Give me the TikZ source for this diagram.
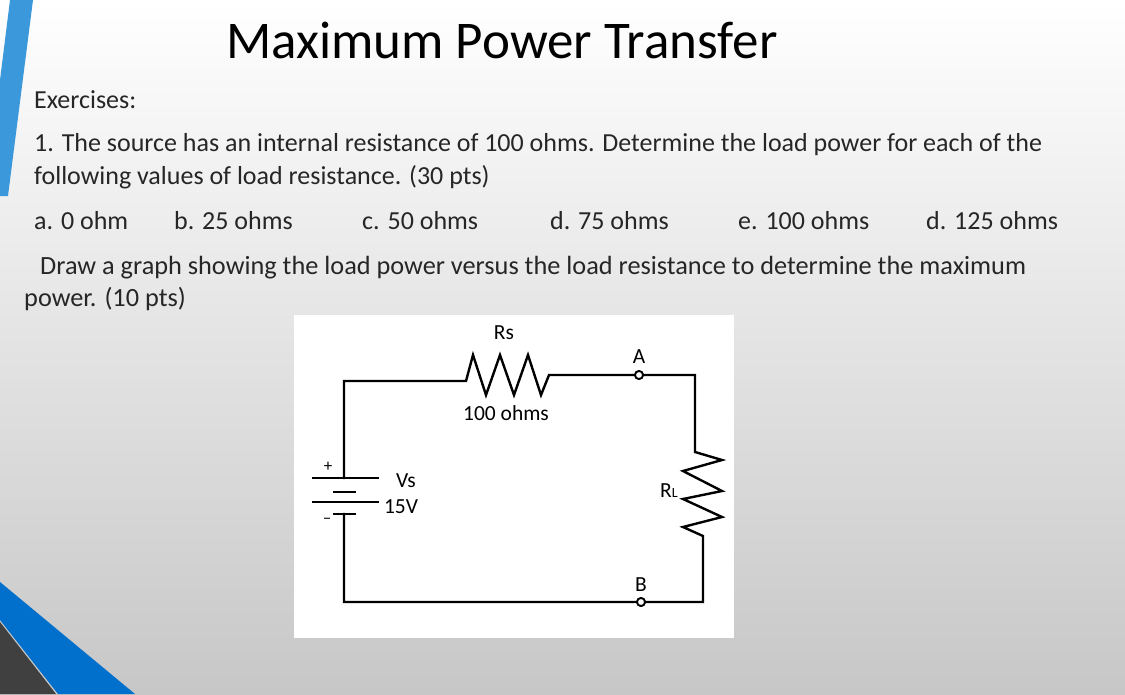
\documentclass[tikz,border=0pt]{standalone}
\usepackage{fontspec}
\setmainfont{Carlito}
\begin{document}
\begin{tikzpicture}[x=1pt,y=-1pt,
  wire/.style={line width=2.4pt,line cap=rect},
  term/.style={circle,draw,line width=1.8pt,fill=white,inner sep=0pt,minimum size=8pt},
  lbl/.style={font=\fontsize{21.5}{24}\selectfont,inner sep=0pt},
  body/.style={font=\fontsize{26}{30}\selectfont,anchor=base west,inner sep=0pt,text=black!85}]
\useasboundingbox (0,0) rectangle (1125,694);
\shade[shading angle=-60,top color=white,bottom color=black!22] (0,0) rectangle (1125,694);
\fill[cyan!70!blue!80] (10,0) -- (33,0) -- (8,196) -- (0,196) -- (0,80) -- cycle;
\fill[black!75] (0,622) -- (0,694) -- (56,694) -- cycle;
\fill[blue!45!cyan!80!black] (0,582) -- (135,694) -- (58,694) -- (0,620) -- cycle;
\node[font=\fontsize{53}{56}\selectfont,anchor=base west,inner sep=0pt] (title) at (226,58) {Maximum Power Transfer};
\node[body] (ex) at (34,108) {Exercises:};
\node[body] (q1) at (34,151) {1. The source has an internal resistance of 100 ohms. Determine the load power for each of the};
\node[body] (q1b) at (34,184) {following values of load resistance. (30 pts)};
\node[body] (a) at (34,229) {a. 0 ohm};
\node[body] (b) at (174,229) {b. 25 ohms};
\node[body] (c) at (362,229) {c. 50 ohms};
\node[body] (d) at (550,229) {d. 75 ohms};
\node[body] (e) at (738,229) {e. 100 ohms};
\node[body] (f) at (926,229) {d. 125 ohms};
\node[body,font=\fontsize{26.3}{30}\selectfont] (g1) at (40,274) {Draw a graph showing the load power versus the load resistance to determine the maximum};
\node[body,font=\fontsize{26.3}{30}\selectfont] (g2) at (24,306) {power. (10 pts)};
% circuit
\fill[white] (294,315) rectangle (734,638);
\coordinate (tl) at (344,381);
\coordinate (r1) at (466,381);
\coordinate (r2) at (549,375);
\node[term] (A) at (639,375) {};
\coordinate (tr) at (695,375);
\coordinate (l1) at (695,452);
\coordinate (l2) at (703,536);
\coordinate (br) at (703,602);
\node[term] (B) at (641,602) {};
\coordinate (bl) at (344,602);
\coordinate (p1) at (344,478);
\coordinate (p2) at (344,514);
\draw[wire,line join=miter] (p1) -- (tl) -- (r1) -- (473,355) -- (486,395) -- (500,355) -- (514,395) -- (528,355) -- (541,395) -- (r2) -- (A) -- (tr) -- (l1) -- (722,460) -- (683,471) -- (722,491) -- (683,499) -- (722,517) -- (683,527) -- (l2) -- (br) -- (B) -- (bl) -- (p2);
\draw[wire] (313,478) -- (378,478) (313,502) -- (378,502);
\draw[wire] (334,492) -- (355,492) (334,514) -- (355,514);
\node[term] at (A) {};
\node[term] at (B) {};
\node[lbl,font=\fontsize{17}{18}\selectfont] (plus) at (328,467) {+};
\node[lbl,font=\fontsize{17}{18}\selectfont] (minus) at (327,521) {--};
\node[lbl] (vs) at (406,481) {Vs};
\node[lbl] (v15) at (401,507) {15V};
\node[lbl] (rs) at (504,333) {Rs};
\node[lbl] (ohm) at (506,413) {100 ohms};
\node[lbl] (la) at (639,357) {A};
\node[lbl] (lb) at (641,585) {B};
\node[lbl] (rl) at (669,491) {R\fontsize{14}{14}\selectfont L};
\end{tikzpicture}
\end{document}
